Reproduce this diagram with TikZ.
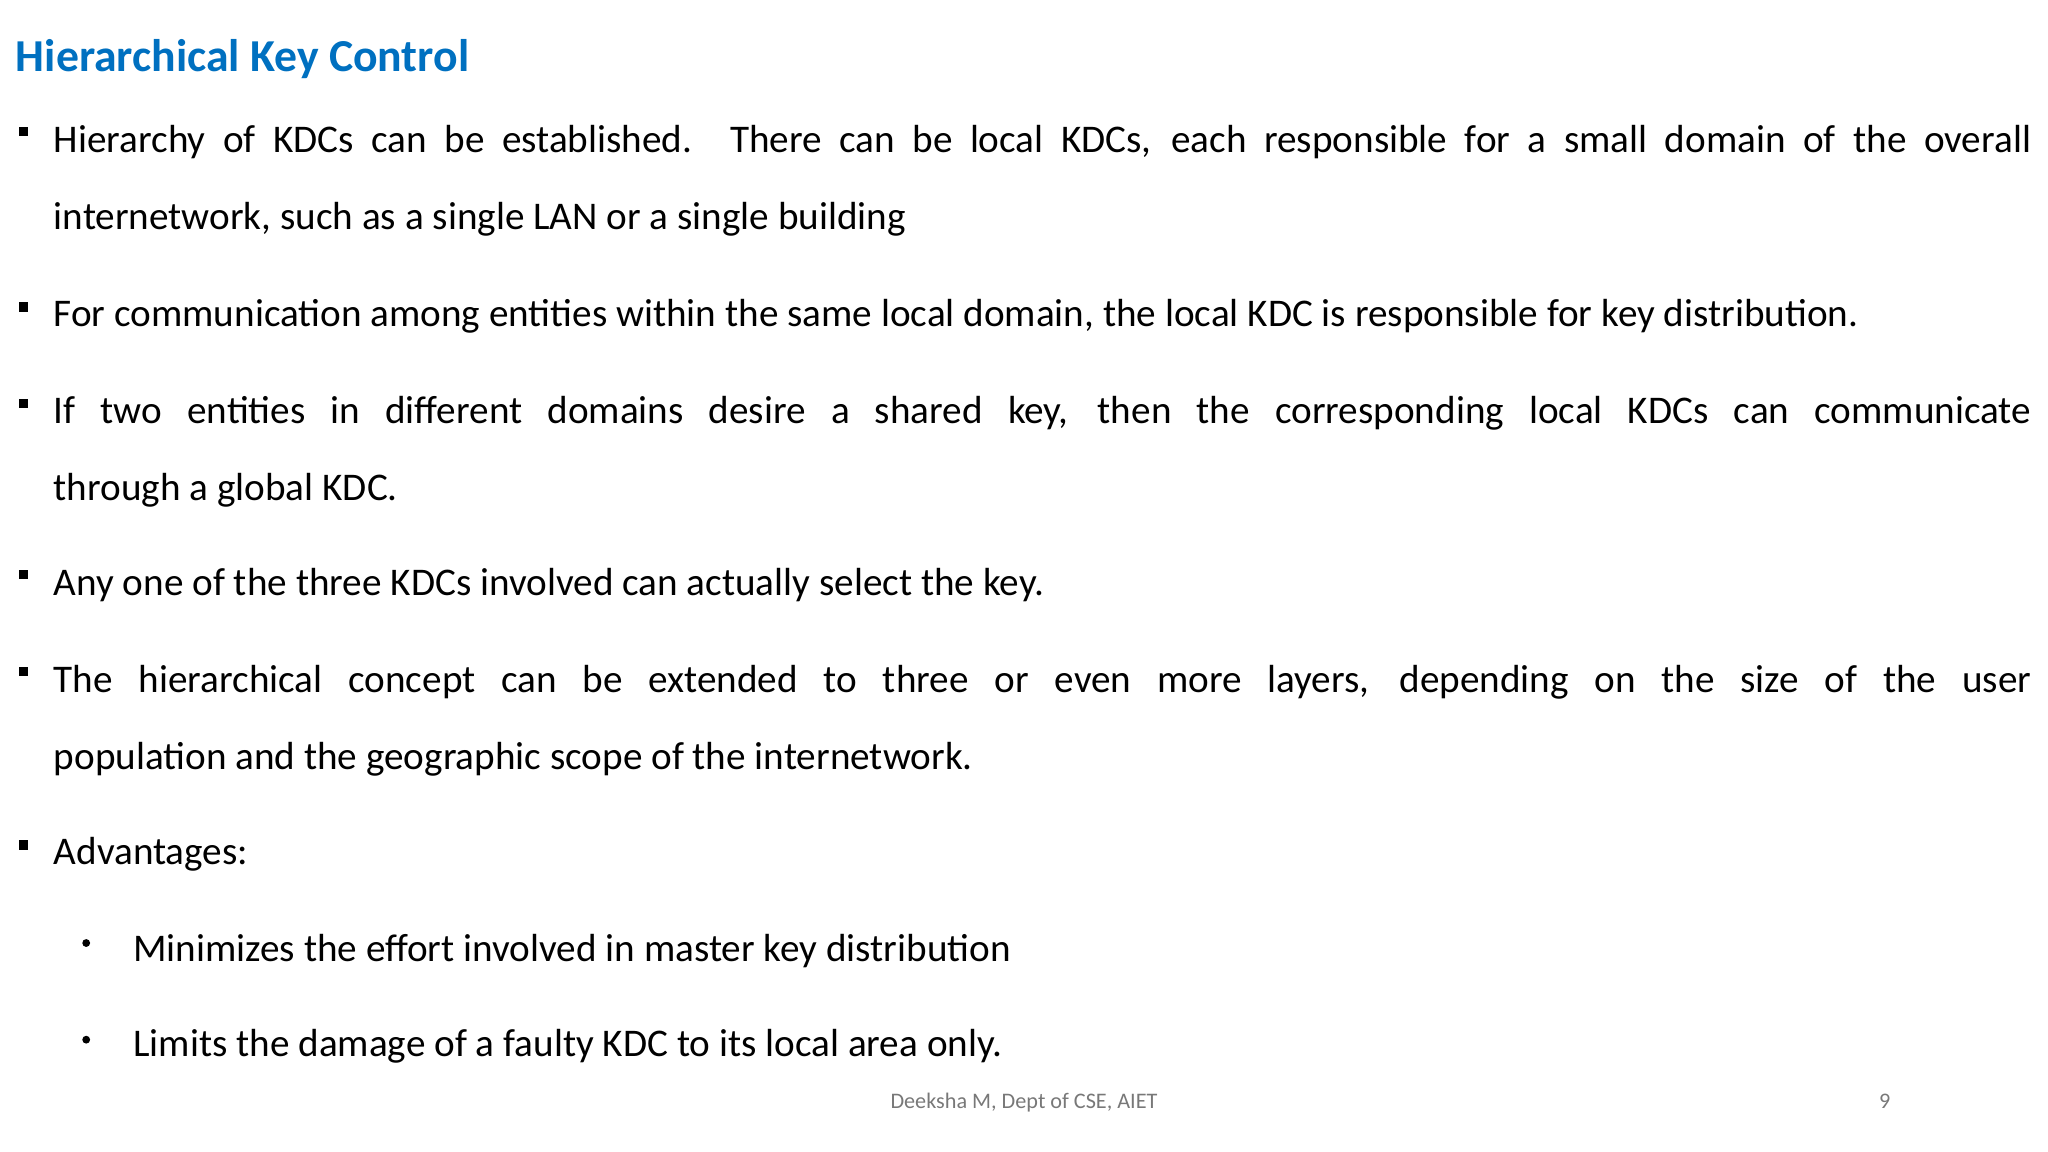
\documentclass[tikz,border=0pt]{standalone}
\usepackage{fontspec}
\setmainfont{Carlito}
\definecolor{titleblue}{RGB}{0,112,192}
\definecolor{footgray}{RGB}{120,120,120}
\begin{document}
\begin{tikzpicture}[x=1pt,y=-1pt,
  txt/.style={anchor=base west,inner sep=0pt,font=\fontsize{30}{36}\selectfont},
  sq/.style={fill=black,minimum size=7pt,inner sep=0pt},
  dot/.style={circle,fill=black,minimum size=6pt,inner sep=0pt}]
\useasboundingbox (0,0) rectangle (1568,882);
\node[anchor=base west,inner sep=0pt,font=\fontsize{35}{40}\selectfont\bfseries,text=titleblue] (title) at (12,55) {Hierarchical Key Control};
\foreach \y/\n in {101/b1,235/b2,309/b3,440/b4,514/b5,647/b6}{\node[sq] (\n) at (18,\y) {};}
\node[txt] (l1) at (41,117) {\makebox[1514pt][s]{Hierarchy of KDCs can be established. There can be local KDCs, each responsible for a small domain of the overall}};
\node[txt] (l2) at (41,176) {internetwork, such as a single LAN or a single building};
\node[txt] (l3) at (41,250) {For communication among entities within the same local domain, the local KDC is responsible for key distribution.};
\node[txt] (l4) at (41,324) {\makebox[1514pt][s]{If two entities in different domains desire a shared key, then the corresponding local KDCs can communicate}};
\node[txt] (l5) at (41,383) {through a global KDC.};
\node[txt] (l6) at (41,456) {Any one of the three KDCs involved can actually select the key.};
\node[txt] (l7) at (41,530) {\makebox[1514pt][s]{The hierarchical concept can be extended to three or even more layers, depending on the size of the user}};
\node[txt] (l8) at (41,589) {population and the geographic scope of the internetwork.};
\node[txt] (l9) at (41,662) {Advantages:};
\node[dot] (d1) at (66,722) {};
\node[dot] (d2) at (66,796) {};
\node[txt] (l10) at (102,736) {Minimizes the effort involved in master key distribution};
\node[txt] (l11) at (102,809) {Limits the damage of a faulty KDC to its local area only.};
\node[anchor=base,inner sep=0pt,font=\fontsize{17}{20}\selectfont,text=footgray] (foot) at (784,849) {Deeksha M, Dept of CSE, AIET};
\node[anchor=base,inner sep=0pt,font=\fontsize{17}{20}\selectfont,text=footgray] (pg) at (1443,849) {9};
\end{tikzpicture}
\end{document}
